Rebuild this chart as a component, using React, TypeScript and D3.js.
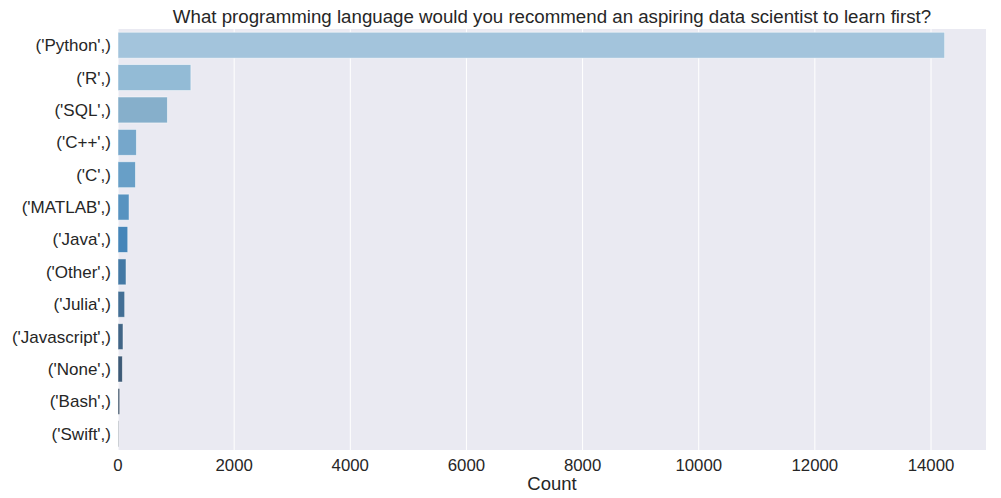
import React from "react";
import * as d3 from "d3";

const categories = ["('Python',)", "('R',)", "('SQL',)", "('C++',)", "('C',)", "('MATLAB',)", "('Java',)", "('Other',)", "('Julia',)", "('Javascript',)", "('None',)", "('Bash',)", "('Swift',)"];
const counts = [14235, 1255, 850, 316, 300, 190, 168, 138, 115, 86, 75, 30, 8];
const barColors = ["#a3c4dc", "#93bbd6", "#86afcb", "#76a7cb", "#689fc7", "#5793c0", "#4686b9", "#4479a5", "#436f95", "#416586", "#3d5a77", "#3a4f66", "#37455a"];
const xTicks = [0, 2000, 4000, 6000, 8000, 10000, 12000, 14000];
const title = "What programming language would you recommend an aspiring data scientist to learn first?";
const xLabel = "Count";

const W = 1001, H = 498;
const M = { left: 118, right: 986, top: 29, bottom: 450 };
const font = "'Liberation Sans', Arial, sans-serif";

export default function App() {
  const x = d3.scaleLinear().domain([0, d3.max(counts)! * 1.05]).range([M.left, M.right]);
  const y = d3.scaleBand().domain(categories).range([M.top, M.bottom]).paddingInner(0.2).paddingOuter(0.1);
  return (
    <svg width={W} height={H} style={{ position: "absolute", left: 0, top: 0, background: "#fff" }} fontFamily={font}>
      <rect x={M.left} y={M.top} width={M.right - M.left} height={M.bottom - M.top} fill="#eaeaf2" />
      {xTicks.map((t) => (
        <line key={t} x1={x(t)} x2={x(t)} y1={M.top} y2={M.bottom} stroke="#fff" strokeWidth={1} />
      ))}
      {categories.map((c, i) => (
        <rect key={c} x={x(0)} y={y(c)!} width={x(counts[i]) - x(0)} height={y.bandwidth()} fill={barColors[i]} stroke="#fff" strokeWidth={0.8} strokeOpacity={0.6} />
      ))}
      {categories.map((c) => (
        <text key={c} x={111} y={y(c)! + y.bandwidth() / 2} dy="0.35em" textAnchor="end" fontSize={17} fill="#262626">{c}</text>
      ))}
      {xTicks.map((t) => (
        <text key={t} x={x(t)} y={471} textAnchor="middle" fontSize={16.8} fill="#262626">{t}</text>
      ))}
      <text x={(M.left + M.right) / 2} y={490} textAnchor="middle" fontSize={18.5} fill="#262626">{xLabel}</text>
      <text x={(M.left + M.right) / 2} y={23} textAnchor="middle" fontSize={18.7} fill="#262626">{title}</text>
    </svg>
  );
}
